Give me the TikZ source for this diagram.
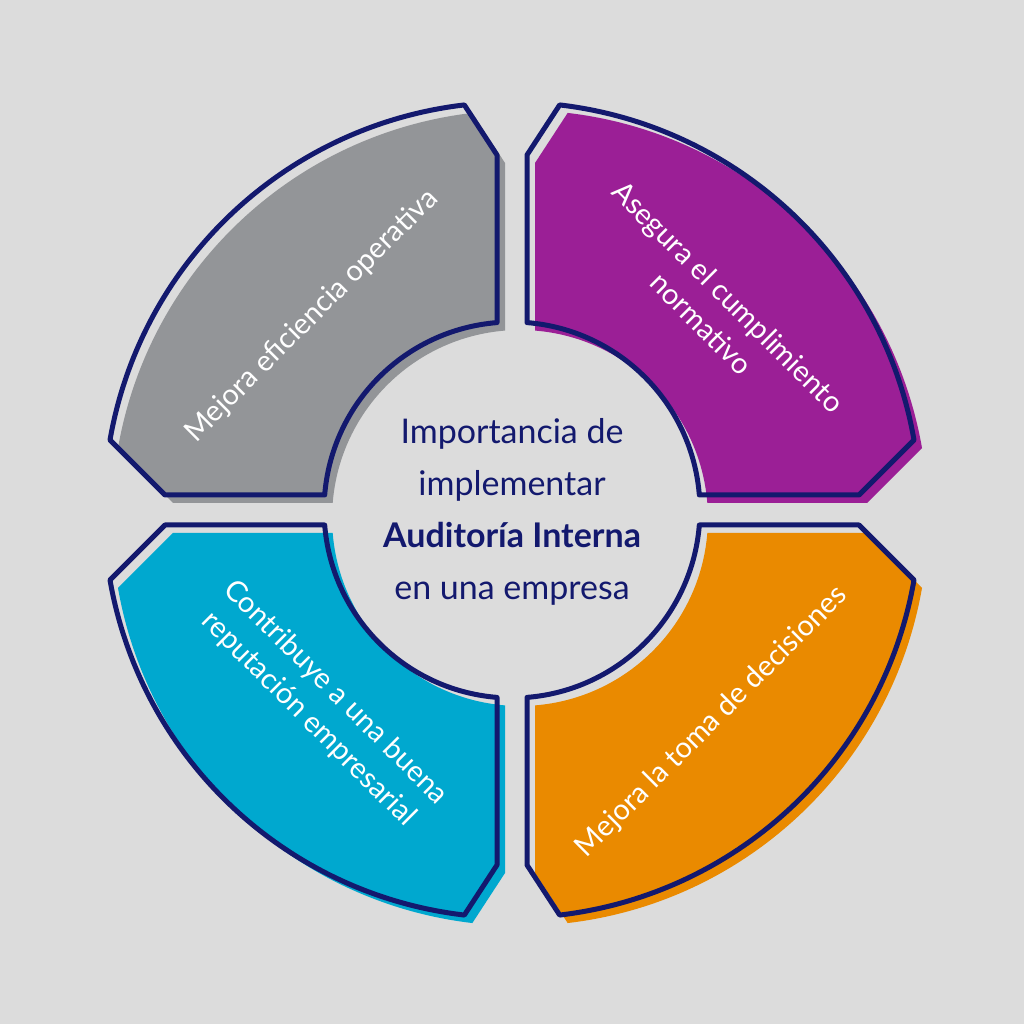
\documentclass[tikz,border=0pt]{standalone}
\usepackage{fontspec}
\setmainfont{Lato}
\definecolor{bg}{HTML}{DCDCDC}
\definecolor{navy}{HTML}{13196E}
\definecolor{cgray}{HTML}{939598}
\definecolor{cpur}{HTML}{9B1F96}
\definecolor{cora}{HTML}{EA8A00}
\definecolor{ccya}{HTML}{00A8CF}
\def\qpath{(-187.4,15) -- (-347,15) -- (-402,70) arc[start angle=170.1,end angle=96.7,radius=408] -- (-15,355) -- (-15,187.4) arc[start angle=94.6,end angle=175.4,radius=188] -- cycle}
\newcommand\myquad[3]{%
  \begin{scope}[shift={(520,506)},xscale=#1,yscale=#2]\fill[#3] \qpath;\end{scope}
  \begin{scope}[shift={(512,514)},xscale=#1,yscale=#2]\draw[navy,line width=5pt,line join=round] \qpath;\end{scope}}
\begin{document}
\begin{tikzpicture}[x=1pt,y=1pt,
  lab/.style={white,font=\fontsize{29}{38}\selectfont,align=center},
  ctr/.style={navy,font=\fontsize{34}{52}\selectfont,align=center}]
\fill[bg] (0,0) rectangle (1024,1024);
\useasboundingbox (0,0) rectangle (1024,1024);
\myquad{1}{1}{cgray}
\myquad{-1}{1}{cpur}
\myquad{1}{-1}{ccya}
\myquad{-1}{-1}{cora}
\node[lab,rotate=45] (q1) at (312,708) {Mejora eficiencia operativa};
\node[lab,rotate=-45] (q2) at (715,714) {Asegura el cumplimiento\\normativo};
\node[lab,rotate=45] (q4) at (712,302) {Mejora la toma de decisiones};
\node[lab,rotate=-45] (q3) at (322,318) {Contribuye a una buena\\reputación empresarial};
\node[ctr] (c) at (512,512) {Importancia de\\implementar\\\textbf{Auditoría Interna}\\en una empresa};
\end{tikzpicture}
\end{document}
